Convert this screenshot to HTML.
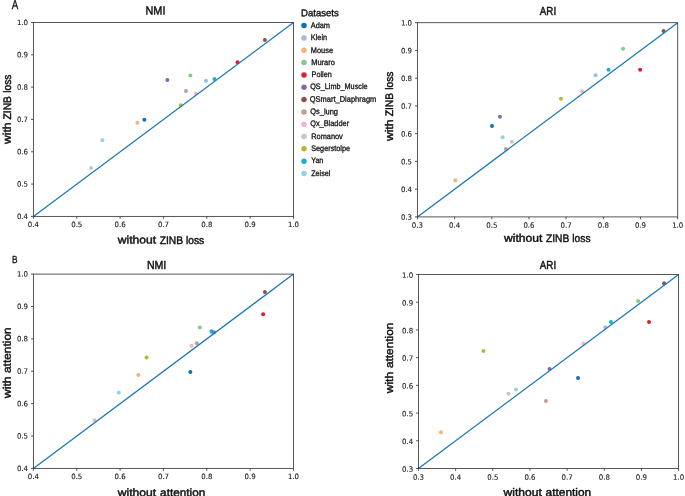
<!DOCTYPE html>
<html lang="en"><head><meta charset="utf-8"><title>Figure</title>
<style>
html,body{margin:0;padding:0;background:#fff;}
body{width:685px;height:496px;overflow:hidden;}
svg{display:block;}
text{text-rendering:geometricPrecision;}
.tk{font-family:"DejaVu Sans","Liberation Sans",sans-serif;font-size:7.30px;fill:#1a1a1a;stroke:#1a1a1a;stroke-width:0.12px;}
.lb{font-family:"Liberation Sans",sans-serif;fill:#111111;stroke:#111111;stroke-width:0.45px;}
.ti{stroke-width:0.45px;}
.le{stroke-width:0.32px;}
.lt{stroke-width:0.4px;}
.li{stroke-width:0.3px;}
</style></head><body>
<svg width="685" height="496" viewBox="0 0 685 496">
<rect width="685" height="496" fill="#fff"/>
<g>
<circle cx="144.38" cy="119.77" r="2.0" fill="#0B72B9"/>
<circle cx="205.93" cy="80.67" r="2.0" fill="#9FBBE2"/>
<circle cx="137.44" cy="122.68" r="2.0" fill="#F6B279"/>
<circle cx="190.33" cy="75.5" r="2.0" fill="#86C98C"/>
<circle cx="237.58" cy="62.25" r="2.0" fill="#E01B33"/>
<circle cx="167.35" cy="80.02" r="2.0" fill="#8C65B2"/>
<circle cx="264.89" cy="39.95" r="2.0" fill="#8B5248"/>
<circle cx="185.99" cy="91.01" r="2.0" fill="#C39C94"/>
<circle cx="195.96" cy="93.6" r="2.0" fill="#F5B0CD"/>
<circle cx="91.06" cy="167.92" r="2.0" fill="#C6C6C6"/>
<circle cx="180.79" cy="105.23" r="2.0" fill="#B3B92E"/>
<circle cx="214.47" cy="79.05" r="2.0" fill="#15B4CB"/>
<circle cx="102.33" cy="140.13" r="2.0" fill="#93D2E0"/>
<line x1="33.4" y1="216.4" x2="293.5" y2="22.5" stroke="#1C78B7" stroke-width="1.3"/>
<rect x="33.4" y="22.5" width="260.1" height="193.9" fill="none" stroke="#3a3a3a" stroke-width="0.85"/>
<path d="M33.4 216.4v2.4M33.4 216.4h-2.4M76.75 216.4v2.4M33.4 184.08h-2.4M120.1 216.4v2.4M33.4 151.77h-2.4M163.45 216.4v2.4M33.4 119.45h-2.4M206.8 216.4v2.4M33.4 87.13h-2.4M250.15 216.4v2.4M33.4 54.82h-2.4M293.5 216.4v2.4M33.4 22.5h-2.4" stroke="#3a3a3a" stroke-width="0.85" fill="none"/>
<text class="tk" transform="translate(27.83 226.95) rotate(0.03)" font-size="7.3" textLength="11.13" lengthAdjust="spacingAndGlyphs">0.4</text>
<text class="tk" transform="translate(16.92 218.9) rotate(0.03)" font-size="7.3" textLength="11.13" lengthAdjust="spacingAndGlyphs">0.4</text>
<text class="tk" transform="translate(71.19 226.95) rotate(0.03)" font-size="7.3" textLength="11.13" lengthAdjust="spacingAndGlyphs">0.5</text>
<text class="tk" transform="translate(16.92 186.58) rotate(0.03)" font-size="7.3" textLength="11.13" lengthAdjust="spacingAndGlyphs">0.5</text>
<text class="tk" transform="translate(114.54 226.95) rotate(0.03)" font-size="7.3" textLength="11.13" lengthAdjust="spacingAndGlyphs">0.6</text>
<text class="tk" transform="translate(16.92 154.27) rotate(0.03)" font-size="7.3" textLength="11.13" lengthAdjust="spacingAndGlyphs">0.6</text>
<text class="tk" transform="translate(157.89 226.95) rotate(0.03)" font-size="7.3" textLength="11.13" lengthAdjust="spacingAndGlyphs">0.7</text>
<text class="tk" transform="translate(16.92 121.95) rotate(0.03)" font-size="7.3" textLength="11.13" lengthAdjust="spacingAndGlyphs">0.7</text>
<text class="tk" transform="translate(201.24 226.95) rotate(0.03)" font-size="7.3" textLength="11.13" lengthAdjust="spacingAndGlyphs">0.8</text>
<text class="tk" transform="translate(16.92 89.63) rotate(0.03)" font-size="7.3" textLength="11.13" lengthAdjust="spacingAndGlyphs">0.8</text>
<text class="tk" transform="translate(244.59 226.95) rotate(0.03)" font-size="7.3" textLength="11.13" lengthAdjust="spacingAndGlyphs">0.9</text>
<text class="tk" transform="translate(16.92 57.32) rotate(0.03)" font-size="7.3" textLength="11.13" lengthAdjust="spacingAndGlyphs">0.9</text>
<text class="tk" transform="translate(287.94 226.95) rotate(0.03)" font-size="7.3" textLength="11.13" lengthAdjust="spacingAndGlyphs">1.0</text>
<text class="tk" transform="translate(16.92 25) rotate(0.03)" font-size="7.3" textLength="11.13" lengthAdjust="spacingAndGlyphs">1.0</text>
<text class="lb ti" transform="translate(145.5 14.5) rotate(0.03)" font-size="11.6" textLength="20" lengthAdjust="spacingAndGlyphs">NMI</text>
<text class="lb" transform="translate(117.75 243.55) rotate(0.03)" font-size="11.0" textLength="38.3" lengthAdjust="spacingAndGlyphs">without</text>
<text class="lb" transform="translate(159.7 243.55) rotate(0.03)" font-size="11.0" textLength="23.3" lengthAdjust="spacingAndGlyphs">ZINB</text>
<text class="lb" transform="translate(186.05 243.55) rotate(0.03)" font-size="11.0" textLength="18.15" lengthAdjust="spacingAndGlyphs">loss</text>
<text class="lb" transform="translate(10.85 144) rotate(-89.97)" font-size="11.0" textLength="21.5" lengthAdjust="spacingAndGlyphs">with</text>
<text class="lb" transform="translate(10.85 119.4) rotate(-89.97)" font-size="11.0" textLength="23.3" lengthAdjust="spacingAndGlyphs">ZINB</text>
<text class="lb" transform="translate(10.85 92.8) rotate(-89.97)" font-size="11.0" textLength="18.15" lengthAdjust="spacingAndGlyphs">loss</text>
</g>
<g>
<circle cx="491.99" cy="125.9" r="2.0" fill="#0B72B9"/>
<circle cx="595.52" cy="75.13" r="2.0" fill="#9FBBE2"/>
<circle cx="455.33" cy="180.28" r="2.0" fill="#F6B279"/>
<circle cx="623.04" cy="48.78" r="2.0" fill="#86C98C"/>
<circle cx="640.14" cy="69.86" r="2.0" fill="#E01B33"/>
<circle cx="499.95" cy="116.75" r="2.0" fill="#8C65B2"/>
<circle cx="663.57" cy="31.02" r="2.0" fill="#8B5248"/>
<circle cx="505.9" cy="148.93" r="2.0" fill="#C39C94"/>
<circle cx="582.13" cy="91.22" r="2.0" fill="#F5B0CD"/>
<circle cx="511.85" cy="141.72" r="2.0" fill="#C6C6C6"/>
<circle cx="560.94" cy="98.72" r="2.0" fill="#B3B92E"/>
<circle cx="608.53" cy="69.86" r="2.0" fill="#15B4CB"/>
<circle cx="502.56" cy="137.28" r="2.0" fill="#93D2E0"/>
<line x1="417.4" y1="216.9" x2="677.7" y2="22.7" stroke="#1C78B7" stroke-width="1.3"/>
<rect x="417.4" y="22.7" width="260.3" height="194.2" fill="none" stroke="#3a3a3a" stroke-width="0.85"/>
<path d="M417.4 216.9v2.4M417.4 216.9h-2.4M454.59 216.9v2.4M417.4 189.16h-2.4M491.77 216.9v2.4M417.4 161.41h-2.4M528.96 216.9v2.4M417.4 133.67h-2.4M566.14 216.9v2.4M417.4 105.93h-2.4M603.33 216.9v2.4M417.4 78.19h-2.4M640.51 216.9v2.4M417.4 50.44h-2.4M677.7 216.9v2.4M417.4 22.7h-2.4" stroke="#3a3a3a" stroke-width="0.85" fill="none"/>
<text class="tk" transform="translate(411.83 227.85) rotate(0.03)" font-size="7.3" textLength="11.13" lengthAdjust="spacingAndGlyphs">0.3</text>
<text class="tk" transform="translate(400.92 219.8) rotate(0.03)" font-size="7.3" textLength="11.13" lengthAdjust="spacingAndGlyphs">0.3</text>
<text class="tk" transform="translate(449.02 227.85) rotate(0.03)" font-size="7.3" textLength="11.13" lengthAdjust="spacingAndGlyphs">0.4</text>
<text class="tk" transform="translate(400.92 192.06) rotate(0.03)" font-size="7.3" textLength="11.13" lengthAdjust="spacingAndGlyphs">0.4</text>
<text class="tk" transform="translate(486.21 227.85) rotate(0.03)" font-size="7.3" textLength="11.13" lengthAdjust="spacingAndGlyphs">0.5</text>
<text class="tk" transform="translate(400.92 164.31) rotate(0.03)" font-size="7.3" textLength="11.13" lengthAdjust="spacingAndGlyphs">0.5</text>
<text class="tk" transform="translate(523.39 227.85) rotate(0.03)" font-size="7.3" textLength="11.13" lengthAdjust="spacingAndGlyphs">0.6</text>
<text class="tk" transform="translate(400.92 136.57) rotate(0.03)" font-size="7.3" textLength="11.13" lengthAdjust="spacingAndGlyphs">0.6</text>
<text class="tk" transform="translate(560.58 227.85) rotate(0.03)" font-size="7.3" textLength="11.13" lengthAdjust="spacingAndGlyphs">0.7</text>
<text class="tk" transform="translate(400.92 108.83) rotate(0.03)" font-size="7.3" textLength="11.13" lengthAdjust="spacingAndGlyphs">0.7</text>
<text class="tk" transform="translate(597.76 227.85) rotate(0.03)" font-size="7.3" textLength="11.13" lengthAdjust="spacingAndGlyphs">0.8</text>
<text class="tk" transform="translate(400.92 81.09) rotate(0.03)" font-size="7.3" textLength="11.13" lengthAdjust="spacingAndGlyphs">0.8</text>
<text class="tk" transform="translate(634.95 227.85) rotate(0.03)" font-size="7.3" textLength="11.13" lengthAdjust="spacingAndGlyphs">0.9</text>
<text class="tk" transform="translate(400.92 53.34) rotate(0.03)" font-size="7.3" textLength="11.13" lengthAdjust="spacingAndGlyphs">0.9</text>
<text class="tk" transform="translate(672.13 227.85) rotate(0.03)" font-size="7.3" textLength="11.13" lengthAdjust="spacingAndGlyphs">1.0</text>
<text class="tk" transform="translate(400.92 25.6) rotate(0.03)" font-size="7.3" textLength="11.13" lengthAdjust="spacingAndGlyphs">1.0</text>
<text class="lb ti" transform="translate(539.8 14.5) rotate(0.03)" font-size="11.6" textLength="16.3" lengthAdjust="spacingAndGlyphs">ARI</text>
<text class="lb" transform="translate(504.05 241.85) rotate(0.03)" font-size="11.0" textLength="38.3" lengthAdjust="spacingAndGlyphs">without</text>
<text class="lb" transform="translate(546 241.85) rotate(0.03)" font-size="11.0" textLength="23.3" lengthAdjust="spacingAndGlyphs">ZINB</text>
<text class="lb" transform="translate(572.35 241.85) rotate(0.03)" font-size="11.0" textLength="18.15" lengthAdjust="spacingAndGlyphs">loss</text>
<text class="lb" transform="translate(393 141.1) rotate(-89.97)" font-size="11.0" textLength="21.5" lengthAdjust="spacingAndGlyphs">with</text>
<text class="lb" transform="translate(393 116.3) rotate(-89.97)" font-size="11.0" textLength="23.3" lengthAdjust="spacingAndGlyphs">ZINB</text>
<text class="lb" transform="translate(393 89.7) rotate(-89.97)" font-size="11.0" textLength="18.1" lengthAdjust="spacingAndGlyphs">loss</text>
</g>
<g>
<circle cx="190.33" cy="371.97" r="2.0" fill="#0B72B9"/>
<circle cx="212" cy="332.79" r="2.0" fill="#9FBBE2"/>
<circle cx="138.31" cy="374.89" r="2.0" fill="#F6B279"/>
<circle cx="199.86" cy="327.61" r="2.0" fill="#86C98C"/>
<circle cx="263.16" cy="314.33" r="2.0" fill="#E01B33"/>
<circle cx="213.95" cy="332.14" r="2.0" fill="#8C65B2"/>
<circle cx="264.89" cy="291.99" r="2.0" fill="#8B5248"/>
<circle cx="196.83" cy="343.15" r="2.0" fill="#C39C94"/>
<circle cx="191.63" cy="345.74" r="2.0" fill="#F5B0CD"/>
<circle cx="94.52" cy="420.22" r="2.0" fill="#C6C6C6"/>
<circle cx="146.54" cy="357.4" r="2.0" fill="#B3B92E"/>
<circle cx="211.57" cy="331.17" r="2.0" fill="#15B4CB"/>
<circle cx="118.8" cy="392.38" r="2.0" fill="#93D2E0"/>
<line x1="33.4" y1="468.4" x2="293.5" y2="274.1" stroke="#1C78B7" stroke-width="1.3"/>
<rect x="33.4" y="274.1" width="260.1" height="194.3" fill="none" stroke="#3a3a3a" stroke-width="0.85"/>
<path d="M33.4 468.4v2.4M33.4 468.4h-2.4M76.75 468.4v2.4M33.4 436.02h-2.4M120.1 468.4v2.4M33.4 403.63h-2.4M163.45 468.4v2.4M33.4 371.25h-2.4M206.8 468.4v2.4M33.4 338.87h-2.4M250.15 468.4v2.4M33.4 306.48h-2.4M293.5 468.4v2.4M33.4 274.1h-2.4" stroke="#3a3a3a" stroke-width="0.85" fill="none"/>
<text class="tk" transform="translate(27.83 478.95) rotate(0.03)" font-size="7.3" textLength="11.13" lengthAdjust="spacingAndGlyphs">0.4</text>
<text class="tk" transform="translate(16.92 470.9) rotate(0.03)" font-size="7.3" textLength="11.13" lengthAdjust="spacingAndGlyphs">0.4</text>
<text class="tk" transform="translate(71.19 478.95) rotate(0.03)" font-size="7.3" textLength="11.13" lengthAdjust="spacingAndGlyphs">0.5</text>
<text class="tk" transform="translate(16.92 438.52) rotate(0.03)" font-size="7.3" textLength="11.13" lengthAdjust="spacingAndGlyphs">0.5</text>
<text class="tk" transform="translate(114.54 478.95) rotate(0.03)" font-size="7.3" textLength="11.13" lengthAdjust="spacingAndGlyphs">0.6</text>
<text class="tk" transform="translate(16.92 406.13) rotate(0.03)" font-size="7.3" textLength="11.13" lengthAdjust="spacingAndGlyphs">0.6</text>
<text class="tk" transform="translate(157.89 478.95) rotate(0.03)" font-size="7.3" textLength="11.13" lengthAdjust="spacingAndGlyphs">0.7</text>
<text class="tk" transform="translate(16.92 373.75) rotate(0.03)" font-size="7.3" textLength="11.13" lengthAdjust="spacingAndGlyphs">0.7</text>
<text class="tk" transform="translate(201.24 478.95) rotate(0.03)" font-size="7.3" textLength="11.13" lengthAdjust="spacingAndGlyphs">0.8</text>
<text class="tk" transform="translate(16.92 341.37) rotate(0.03)" font-size="7.3" textLength="11.13" lengthAdjust="spacingAndGlyphs">0.8</text>
<text class="tk" transform="translate(244.59 478.95) rotate(0.03)" font-size="7.3" textLength="11.13" lengthAdjust="spacingAndGlyphs">0.9</text>
<text class="tk" transform="translate(16.92 308.98) rotate(0.03)" font-size="7.3" textLength="11.13" lengthAdjust="spacingAndGlyphs">0.9</text>
<text class="tk" transform="translate(287.94 478.95) rotate(0.03)" font-size="7.3" textLength="11.13" lengthAdjust="spacingAndGlyphs">1.0</text>
<text class="tk" transform="translate(16.92 276.6) rotate(0.03)" font-size="7.3" textLength="11.13" lengthAdjust="spacingAndGlyphs">1.0</text>
<text class="lb ti" transform="translate(146.9 268.5) rotate(0.03)" font-size="11.6" textLength="19.4" lengthAdjust="spacingAndGlyphs">NMI</text>
<text class="lb" transform="translate(117.84 496.15) rotate(0.03)" font-size="11.0" textLength="38.3" lengthAdjust="spacingAndGlyphs">without</text>
<text class="lb" transform="translate(160.1 496.15) rotate(0.03)" font-size="11.0" textLength="45.2" lengthAdjust="spacingAndGlyphs">attention</text>
<text class="lb" transform="translate(10.85 398.2) rotate(-89.97)" font-size="11.0" textLength="21.8" lengthAdjust="spacingAndGlyphs">with</text>
<text class="lb" transform="translate(10.85 373) rotate(-89.97)" font-size="11.0" textLength="45.6" lengthAdjust="spacingAndGlyphs">attention</text>
</g>
<g>
<circle cx="578.03" cy="378.05" r="2.0" fill="#0B72B9"/>
<circle cx="605.39" cy="327.33" r="2.0" fill="#9FBBE2"/>
<circle cx="440.97" cy="432.37" r="2.0" fill="#F6B279"/>
<circle cx="638.09" cy="301" r="2.0" fill="#86C98C"/>
<circle cx="649.05" cy="322.06" r="2.0" fill="#E01B33"/>
<circle cx="549.53" cy="368.9" r="2.0" fill="#8C65B2"/>
<circle cx="664.07" cy="283.26" r="2.0" fill="#8B5248"/>
<circle cx="545.92" cy="401.05" r="2.0" fill="#C39C94"/>
<circle cx="583.46" cy="343.4" r="2.0" fill="#F5B0CD"/>
<circle cx="508.39" cy="393.84" r="2.0" fill="#C6C6C6"/>
<circle cx="483.49" cy="350.89" r="2.0" fill="#B3B92E"/>
<circle cx="610.96" cy="322.06" r="2.0" fill="#15B4CB"/>
<circle cx="516.01" cy="389.41" r="2.0" fill="#93D2E0"/>
<line x1="418.45" y1="468.5" x2="678.6" y2="274.5" stroke="#1C78B7" stroke-width="1.3"/>
<rect x="418.45" y="274.5" width="260.15" height="194" fill="none" stroke="#3a3a3a" stroke-width="0.85"/>
<path d="M418.45 468.5v2.4M418.45 468.5h-2.4M455.61 468.5v2.4M418.45 440.79h-2.4M492.78 468.5v2.4M418.45 413.07h-2.4M529.94 468.5v2.4M418.45 385.36h-2.4M567.11 468.5v2.4M418.45 357.64h-2.4M604.27 468.5v2.4M418.45 329.93h-2.4M641.44 468.5v2.4M418.45 302.21h-2.4M678.6 468.5v2.4M418.45 274.5h-2.4" stroke="#3a3a3a" stroke-width="0.85" fill="none"/>
<text class="tk" transform="translate(412.88 479.75) rotate(0.03)" font-size="7.3" textLength="11.13" lengthAdjust="spacingAndGlyphs">0.3</text>
<text class="tk" transform="translate(401.97 471.7) rotate(0.03)" font-size="7.3" textLength="11.13" lengthAdjust="spacingAndGlyphs">0.3</text>
<text class="tk" transform="translate(450.05 479.75) rotate(0.03)" font-size="7.3" textLength="11.13" lengthAdjust="spacingAndGlyphs">0.4</text>
<text class="tk" transform="translate(401.97 443.99) rotate(0.03)" font-size="7.3" textLength="11.13" lengthAdjust="spacingAndGlyphs">0.4</text>
<text class="tk" transform="translate(487.21 479.75) rotate(0.03)" font-size="7.3" textLength="11.13" lengthAdjust="spacingAndGlyphs">0.5</text>
<text class="tk" transform="translate(401.97 416.27) rotate(0.03)" font-size="7.3" textLength="11.13" lengthAdjust="spacingAndGlyphs">0.5</text>
<text class="tk" transform="translate(524.38 479.75) rotate(0.03)" font-size="7.3" textLength="11.13" lengthAdjust="spacingAndGlyphs">0.6</text>
<text class="tk" transform="translate(401.97 388.56) rotate(0.03)" font-size="7.3" textLength="11.13" lengthAdjust="spacingAndGlyphs">0.6</text>
<text class="tk" transform="translate(561.54 479.75) rotate(0.03)" font-size="7.3" textLength="11.13" lengthAdjust="spacingAndGlyphs">0.7</text>
<text class="tk" transform="translate(401.97 360.84) rotate(0.03)" font-size="7.3" textLength="11.13" lengthAdjust="spacingAndGlyphs">0.7</text>
<text class="tk" transform="translate(598.71 479.75) rotate(0.03)" font-size="7.3" textLength="11.13" lengthAdjust="spacingAndGlyphs">0.8</text>
<text class="tk" transform="translate(401.97 333.13) rotate(0.03)" font-size="7.3" textLength="11.13" lengthAdjust="spacingAndGlyphs">0.8</text>
<text class="tk" transform="translate(635.87 479.75) rotate(0.03)" font-size="7.3" textLength="11.13" lengthAdjust="spacingAndGlyphs">0.9</text>
<text class="tk" transform="translate(401.97 305.41) rotate(0.03)" font-size="7.3" textLength="11.13" lengthAdjust="spacingAndGlyphs">0.9</text>
<text class="tk" transform="translate(673.03 479.75) rotate(0.03)" font-size="7.3" textLength="11.13" lengthAdjust="spacingAndGlyphs">1.0</text>
<text class="tk" transform="translate(401.97 277.7) rotate(0.03)" font-size="7.3" textLength="11.13" lengthAdjust="spacingAndGlyphs">1.0</text>
<text class="lb ti" transform="translate(539.8 268.5) rotate(0.03)" font-size="11.6" textLength="16.3" lengthAdjust="spacingAndGlyphs">ARI</text>
<text class="lb" transform="translate(503.55 496.05) rotate(0.03)" font-size="11.0" textLength="38.25" lengthAdjust="spacingAndGlyphs">without</text>
<text class="lb" transform="translate(545.6 496.05) rotate(0.03)" font-size="11.0" textLength="45.6" lengthAdjust="spacingAndGlyphs">attention</text>
<text class="lb" transform="translate(393 393.3) rotate(-89.97)" font-size="11.0" textLength="21.5" lengthAdjust="spacingAndGlyphs">with</text>
<text class="lb" transform="translate(393 368.1) rotate(-89.97)" font-size="11.0" textLength="45.5" lengthAdjust="spacingAndGlyphs">attention</text>
</g>
<text class="lb le" transform="translate(11.75 8.65) rotate(0.03)" font-size="12.7" textLength="6.5" lengthAdjust="spacingAndGlyphs">A</text>
<text class="lb le" transform="translate(11.9 263.4) rotate(0.03)" font-size="10.3" textLength="5.5" lengthAdjust="spacingAndGlyphs">B</text>
<g>
<text class="lb lt" transform="translate(301.1 16.3) rotate(0.03)" font-size="9.9" textLength="37.7" lengthAdjust="spacingAndGlyphs">Datasets</text>
<circle cx="304" cy="25.6" r="2.75" fill="#0B72B9"/>
<text class="lb li" transform="translate(310.8 27.85) rotate(0.03)" font-size="8.0" textLength="19.2" lengthAdjust="spacingAndGlyphs">Adam</text>
<circle cx="304" cy="37.92" r="2.75" fill="#9FBBE2"/>
<text class="lb li" transform="translate(310.8 40.17) rotate(0.03)" font-size="8.0" textLength="16.3" lengthAdjust="spacingAndGlyphs">Klein</text>
<circle cx="304" cy="50.25" r="2.75" fill="#F6B279"/>
<text class="lb li" transform="translate(310.8 52.5) rotate(0.03)" font-size="8.0" textLength="22.2" lengthAdjust="spacingAndGlyphs">Mouse</text>
<circle cx="304" cy="62.57" r="2.75" fill="#86C98C"/>
<text class="lb li" transform="translate(311.2 64.82) rotate(0.03)" font-size="8.0" textLength="23.6" lengthAdjust="spacingAndGlyphs">Muraro</text>
<circle cx="304" cy="74.9" r="2.75" fill="#E01B33"/>
<text class="lb li" transform="translate(311.6 77.15) rotate(0.03)" font-size="8.0" textLength="20.1" lengthAdjust="spacingAndGlyphs">Pollen</text>
<circle cx="304" cy="87.22" r="2.75" fill="#8C65B2"/>
<text class="lb li" transform="translate(310.2 89.47) rotate(0.03)" font-size="8.0" textLength="57.4" lengthAdjust="spacingAndGlyphs">QS_Limb_Muscle</text>
<circle cx="304" cy="99.55" r="2.75" fill="#8B5248"/>
<text class="lb li" transform="translate(309.8 101.8) rotate(0.03)" font-size="8.0" textLength="66.5" lengthAdjust="spacingAndGlyphs">QSmart_Diaphragm</text>
<circle cx="304" cy="111.88" r="2.75" fill="#C39C94"/>
<text class="lb li" transform="translate(310.2 114.12) rotate(0.03)" font-size="8.0" textLength="27.8" lengthAdjust="spacingAndGlyphs">Qs_lung</text>
<circle cx="304" cy="124.2" r="2.75" fill="#F5B0CD"/>
<text class="lb li" transform="translate(310.2 126.45) rotate(0.03)" font-size="8.0" textLength="38.9" lengthAdjust="spacingAndGlyphs">Qx_Bladder</text>
<circle cx="304" cy="136.53" r="2.75" fill="#C6C6C6"/>
<text class="lb li" transform="translate(311.2 138.78) rotate(0.03)" font-size="8.0" textLength="31.6" lengthAdjust="spacingAndGlyphs">Romanov</text>
<circle cx="304" cy="148.85" r="2.75" fill="#B3B92E"/>
<text class="lb li" transform="translate(311.2 151.1) rotate(0.03)" font-size="8.0" textLength="38.9" lengthAdjust="spacingAndGlyphs">Segerstolpe</text>
<circle cx="304" cy="161.17" r="2.75" fill="#15B4CB"/>
<text class="lb li" transform="translate(311.2 163.42) rotate(0.03)" font-size="8.0" textLength="12.1" lengthAdjust="spacingAndGlyphs">Yan</text>
<circle cx="304" cy="173.5" r="2.75" fill="#93D2E0"/>
<text class="lb li" transform="translate(311.2 175.75) rotate(0.03)" font-size="8.0" textLength="19.1" lengthAdjust="spacingAndGlyphs">Zeisel</text>
</g>
</svg>
</body></html>
